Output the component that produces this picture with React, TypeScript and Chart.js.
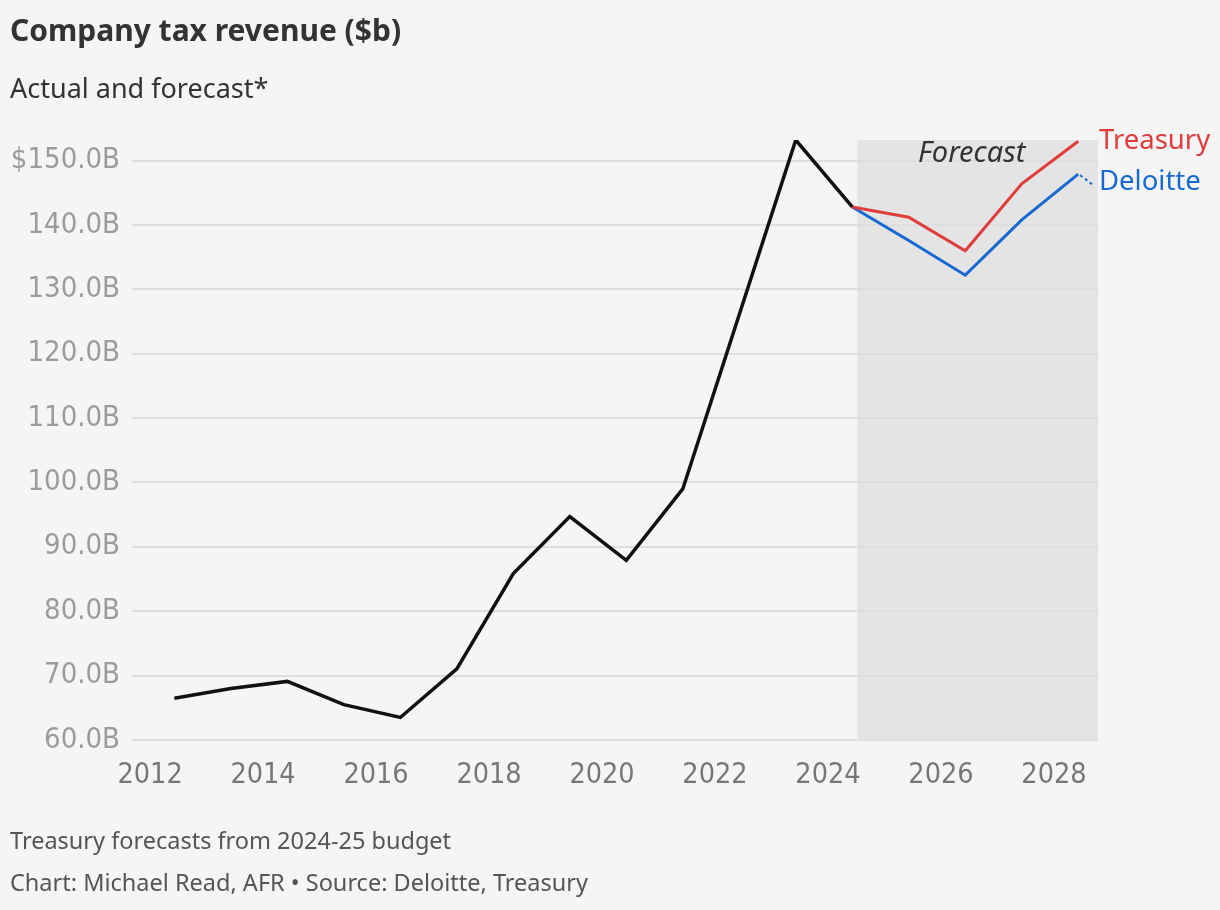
import React, { useEffect, useRef } from "react";
import { Chart, registerables } from "chart.js";

Chart.register(...registerables);

// ---- Data (values in $ billions, by financial year) ----
const actualYears = [2012, 2013, 2014, 2015, 2016, 2017, 2018, 2019, 2020, 2021, 2022, 2023, 2024];
const actualValues = [66.5, 68.0, 69.1, 65.5, 63.5, 71.05, 85.85, 94.7, 87.9, 99.0, 126.1, 153.2, 142.8];
const forecastYears = [2024, 2025, 2026, 2027, 2028];
const treasuryValues = [142.8, 141.2, 136.0, 146.4, 153.0];
const deloitteValues = [142.8, 137.6, 132.2, 140.8, 147.9];
const xTickYears = [2012, 2014, 2016, 2018, 2020, 2022, 2024, 2026, 2028];
const yTickValues = [60, 70, 80, 90, 100, 110, 120, 130, 140, 150];

// point sits part-way through each year on the time axis
const POINT_OFFSET = 0.43;
const FORECAST_START = 2024.52;
const X_MIN = 2011.68;
const X_MAX = 2028.78;
const Y_MIN = 60;
const Y_MAX = 153.2;

const BLACK = "#111111";
const RED = "#e03c3c";
const BLUE = "#1769d1";
const TICK_FONT = '"DejaVu Sans Condensed", "DejaVu Sans", sans-serif';
const TEXT_FONT = '"Noto Sans", sans-serif';

const toPoints = (xs: number[], ys: number[]) => xs.map((x, i) => ({ x: x + POINT_OFFSET, y: ys[i] }));

const backgroundPlugin = {
  id: "bgShade",
  beforeDraw(chart: any) {
    const { ctx, chartArea, scales } = chart;
    ctx.save();
    ctx.fillStyle = "#f5f5f5";
    ctx.fillRect(0, 0, chart.width, chart.height);
    const x0 = scales.x.getPixelForValue(FORECAST_START);
    ctx.fillStyle = "#e4e4e4";
    ctx.fillRect(x0, chartArea.top, chartArea.right - x0, chartArea.bottom - chartArea.top);
    ctx.restore();
  },
};

const labelPlugin = {
  id: "seriesLabels",
  afterDatasetsDraw(chart: any) {
    const { ctx, chartArea, scales } = chart;
    const x0 = scales.x.getPixelForValue(FORECAST_START);
    ctx.save();
    // Forecast label
    ctx.font = `italic 29px ${TEXT_FONT}`;
    ctx.fillStyle = "#333333";
    ctx.textAlign = "center";
    ctx.textBaseline = "alphabetic";
    ctx.fillText("Forecast", (x0 + chartArea.right) / 2 - 6, chartArea.top + 22);

    // End labels
    const tMeta = chart.getDatasetMeta(1);
    const dMeta = chart.getDatasetMeta(2);
    const tEnd = tMeta.data[tMeta.data.length - 1];
    const dEnd = dMeta.data[dMeta.data.length - 1];
    const tY = tEnd.y;
    const dY = Math.max(dEnd.y, tY + 41);
    const lx = chartArea.right + 1;
    ctx.font = `27.5px ${TEXT_FONT}`;
    ctx.textAlign = "left";
    ctx.textBaseline = "middle";
    ctx.fillStyle = RED;
    ctx.fillText("Treasury", lx, tY);
    ctx.fillStyle = BLUE;
    ctx.fillText("Deloitte", lx, dY);

    // leader for displaced label
    if (dY - dEnd.y > 3) {
      ctx.strokeStyle = BLUE;
      ctx.lineWidth = 2;
      ctx.setLineDash([3, 3]);
      ctx.beginPath();
      ctx.moveTo(dEnd.x + 2, dEnd.y + 1);
      ctx.lineTo(chartArea.right - 6, dY + 2);
      ctx.stroke();
    }
    ctx.restore();
  },
};

export default function App() {
  const canvasRef = useRef<HTMLCanvasElement | null>(null);

  useEffect(() => {
    if (!canvasRef.current) return;
    const chart = new Chart(canvasRef.current, {
      type: "line",
      data: {
        datasets: [
          {
            label: "Actual",
            data: toPoints(actualYears, actualValues),
            borderColor: BLACK,
            borderWidth: 3.5,
            pointRadius: 0,
            tension: 0,
          },
          {
            label: "Treasury",
            data: toPoints(forecastYears, treasuryValues),
            borderColor: RED,
            borderWidth: 3,
            pointRadius: 0,
            tension: 0,
          },
          {
            label: "Deloitte",
            data: toPoints(forecastYears, deloitteValues),
            borderColor: BLUE,
            borderWidth: 3,
            pointRadius: 0,
            tension: 0,
          },
        ],
      },
      options: {
        animation: false,
        responsive: false,
        maintainAspectRatio: false,
        layout: { padding: { left: 0, right: 122, top: 140, bottom: 110 } },
        plugins: {
          legend: { display: false },
          tooltip: { enabled: false },
          title: { display: false },
        },
        scales: {
          x: {
            type: "linear",
            min: X_MIN,
            max: X_MAX,
            grid: { display: false },
            border: { display: false },
            afterBuildTicks: (s: any) => {
              s.ticks = xTickYears.map((v) => ({ value: v }));
            },
            afterFit: (s: any) => {
              s.height = 60;
            },
            ticks: {
              padding: 10,
              color: "#767676",
              font: { family: TICK_FONT, size: 28.5 },
              maxRotation: 0,
              autoSkip: false,
              callback: (v: any) => String(v),
            },
          },
          y: {
            type: "linear",
            min: Y_MIN,
            max: Y_MAX,
            afterBuildTicks: (s: any) => {
              s.ticks = yTickValues.map((v) => ({ value: v }));
            },
            afterFit: (s: any) => {
              s.width = 132;
            },
            grid: { color: "#dedede", lineWidth: 2, drawTicks: false },
            border: { display: false },
            ticks: {
              padding: 12,
              color: "#9b9b9b",
              font: { family: TICK_FONT, size: 29 },
              callback: (v: any) => (v === 150 ? "$" : "") + Number(v).toFixed(1) + "B",
            },
          },
        },
      },
      plugins: [backgroundPlugin, labelPlugin],
    });
    return () => chart.destroy();
  }, []);

  const textBase: React.CSSProperties = {
    position: "absolute",
    left: 10,
    whiteSpace: "nowrap",
    lineHeight: "1",
    fontFamily: TEXT_FONT,
  };

  return (
    <div
      style={{
        position: "absolute",
        left: 0,
        top: 0,
        width: 1220,
        height: 910,
        background: "#f5f5f5",
        overflow: "hidden",
      }}
    >
      <canvas
        ref={canvasRef}
        width={1220}
        height={910}
        style={{ position: "absolute", left: 0, top: 0, width: 1220, height: 910 }}
      />
      <div style={{ ...textBase, top: 15, fontSize: 30, fontWeight: 700, color: "#333333" }}>
        Company tax revenue ($b)
      </div>
      <div style={{ ...textBase, top: 74, fontSize: 27, color: "#333333" }}>Actual and forecast*</div>
      <div style={{ ...textBase, top: 828.6, fontSize: 23.5, color: "#555555" }}>
        Treasury forecasts from 2024-25 budget
      </div>
      <div style={{ ...textBase, top: 870.6, fontSize: 23.5, color: "#555555" }}>
        Chart: Michael Read, AFR • Source: Deloitte, Treasury
      </div>
    </div>
  );
}
